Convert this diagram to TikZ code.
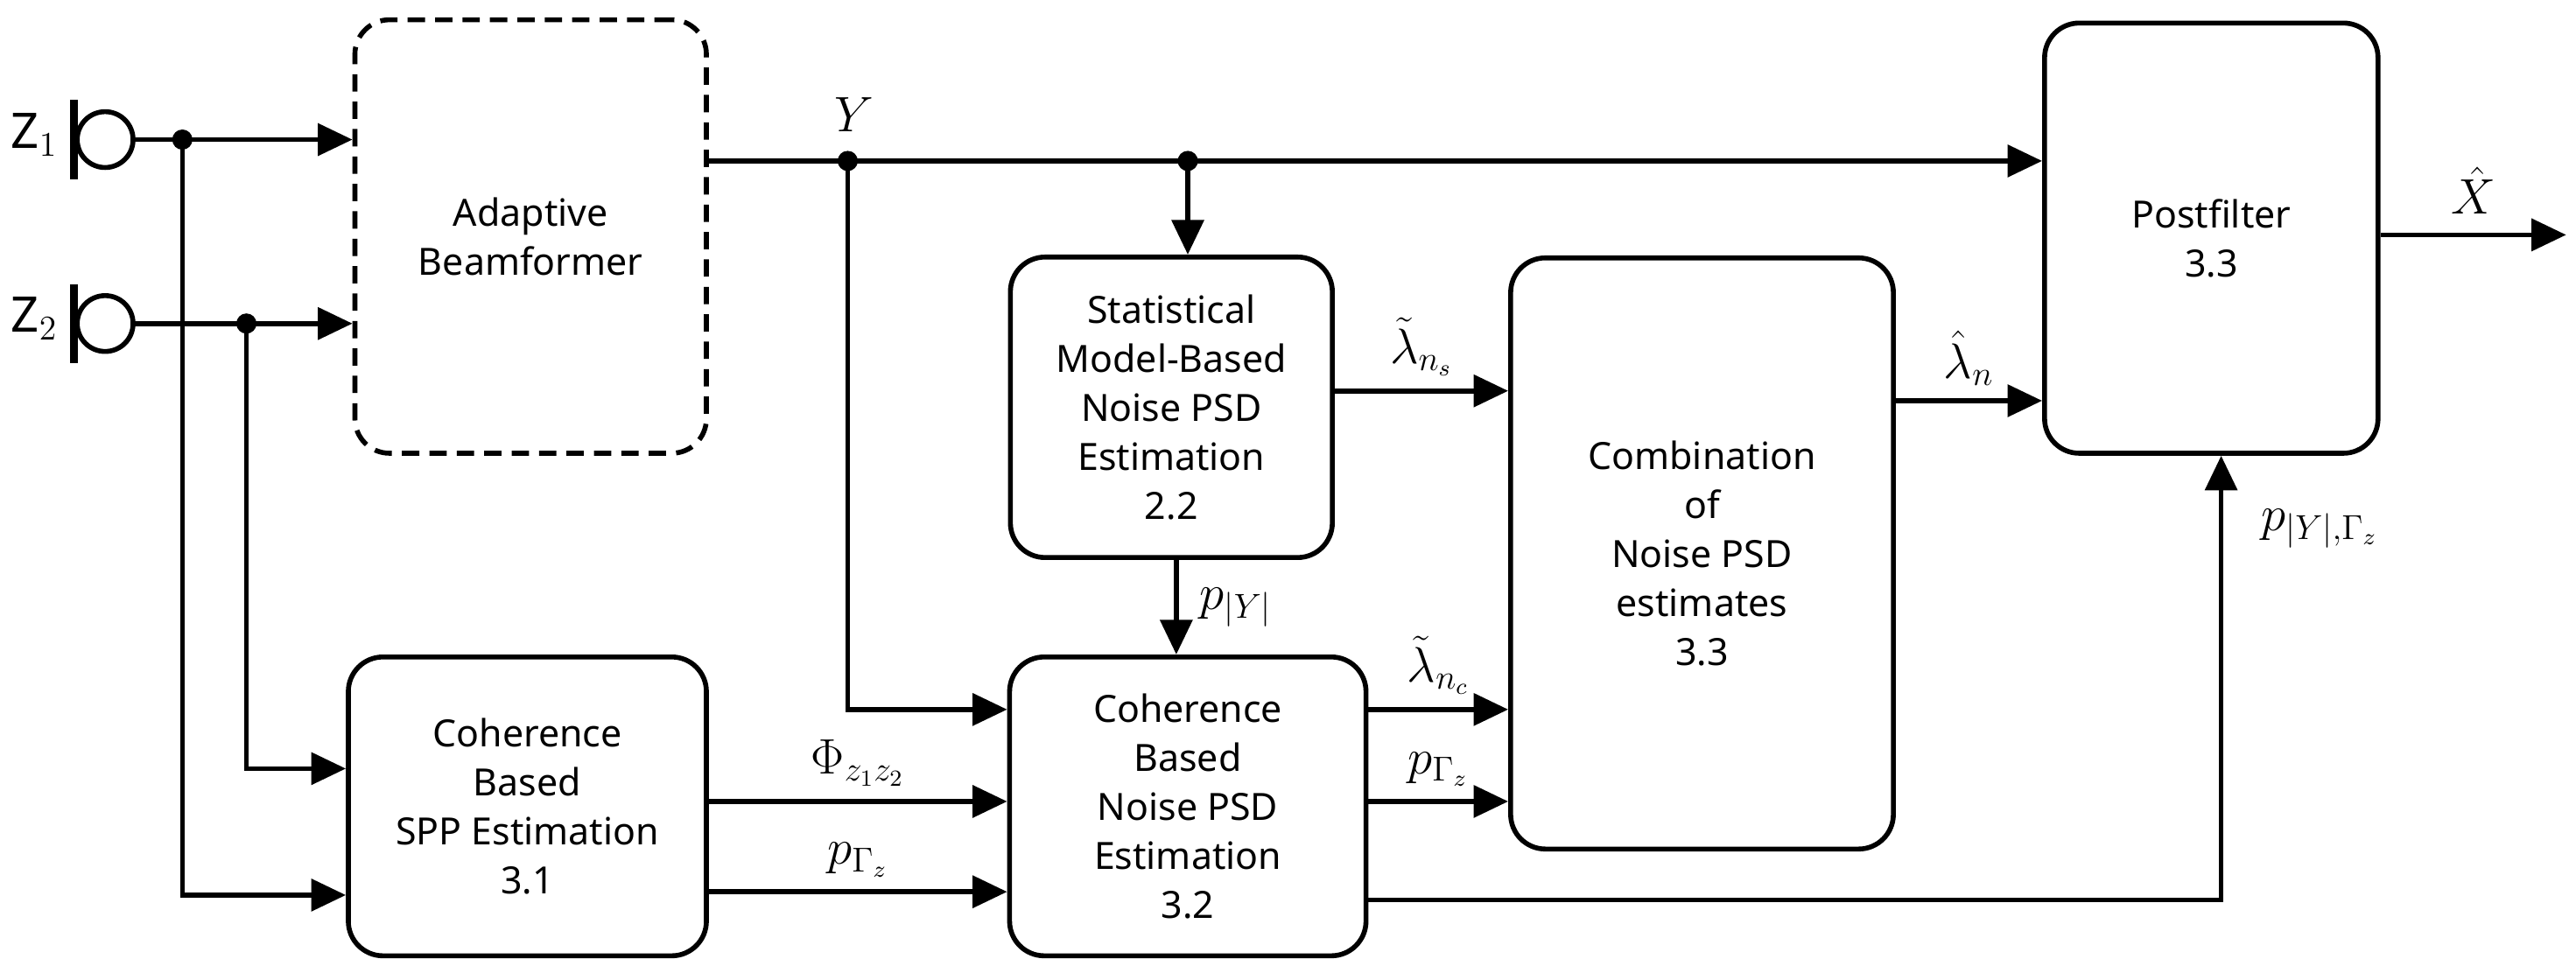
\documentclass[tikz,border=0pt]{standalone}
\usepackage{fontspec}
\setmainfont{Noto Sans}
\usepackage{amsmath}
\usetikzlibrary{positioning, arrows.meta}

\begin{document}
\begin{tikzpicture}[
    x=0.02cm, y=-0.02cm,
    line width=1.7pt,
    block/.style={draw, rounded corners=12pt, align=center, font=\fontsize{13}{17}\selectfont},
    arrow/.style={-{Triangle[length=12pt, width=11pt]}},
    dot/.style={circle, fill, inner sep=0pt, minimum size=7pt},
    lbl/.style={font=\fontsize{17}{19}\selectfont}
]
\useasboundingbox (0,0) rectangle (1568,592);

% Blocks
\node[block, dash pattern=on 6pt off 3.5pt, minimum width=4.28cm, minimum height=5.28cm] (bf) at (323,144) {Adaptive\\Beamformer};
\node[block, minimum width=3.92cm, minimum height=3.66cm] (stat) at (713,248) {Statistical\\Model-Based\\Noise PSD\\Estimation\\2.2};
\node[block, minimum width=4.36cm, minimum height=3.64cm] (spp) at (321,491) {Coherence\\Based\\SPP Estimation\\3.1};
\node[block, minimum width=4.34cm, minimum height=3.64cm] (cnp) at (723,491) {Coherence\\Based\\Noise PSD\\Estimation\\3.2};
\node[block, minimum width=4.66cm, minimum height=7.2cm] (comb) at (1036,337) {Combination\\of\\Noise PSD\\estimates\\3.3};
\node[block, minimum width=4.06cm, minimum height=5.24cm] (post) at (1346,145) {Postfilter\\3.3};

% Microphones
\foreach \i/\yy in {1/85, 2/197} {
  \draw[line width=3pt] (45,\yy-24) -- (45,\yy+24);
  \draw (64,\yy) circle (17);
  \node[lbl] at (21,\yy-3) {$\mathrm{Z}_\i$};
  \coordinate (mic\i) at (81,\yy);
}

% Coordinates for junctions and corners
\coordinate (j1) at (111,85);
\coordinate (j2) at (150,197);
\coordinate (jy) at (516,98);
\coordinate (js) at (723,98);
\coordinate (out) at (1562,143);
\coordinate (corner) at (1352,548);

% Microphone paths
\draw (mic1) -- (j1);
\draw[arrow] (j1) -- (bf.west |- j1);
\draw (mic2) -- (j2);
\draw[arrow] (j2) -- (bf.west |- j2);
\draw[arrow] (j1) |- (spp.west |- 0,545);
\draw[arrow] (j2) |- (spp.west |- 0,468);
\node[dot] at (j1) {};
\node[dot] at (j2) {};

% Beamformer output Y
\draw[arrow] (bf.east |- jy) -- (post.west |- jy);
\node[dot] at (jy) {};
\node[dot] at (js) {};
\node[lbl] at (520,70) {$Y$};
\draw[arrow] (jy) |- (cnp.west |- 0,432);
\draw[arrow] (js) -- (stat.north -| js);

% Statistical to coherence noise
\draw[arrow] (stat.south -| 716,0) -- (cnp.north -| 716,0) node[lbl, midway, right=4pt] {$p_{|Y|}$};

% SPP to coherence noise
\draw[arrow] (spp.east |- 0,488) -- (cnp.west |- 0,488) node[lbl, midway, above=1pt] {$\Phi_{z_1z_2}$};
\draw[arrow] (spp.east |- 0,543) -- (cnp.west |- 0,543) node[lbl, midway, above=1pt] {$p_{\Gamma_z}$};

% To combination
\draw[arrow] (stat.east |- 0,238) -- (comb.west |- 0,238) node[lbl, midway, above=1pt] {$\tilde{\lambda}_{n_s}$};
\draw[arrow] (cnp.east |- 0,432) -- (comb.west |- 0,432) node[lbl, midway, above=1pt] {$\tilde{\lambda}_{n_c}$};
\draw[arrow] (cnp.east |- 0,488) -- (comb.west |- 0,488) node[lbl, midway, above=1pt] {$p_{\Gamma_z}$};

% To postfilter
\draw[arrow] (comb.east |- 0,244) -- (post.west |- 0,244) node[lbl, midway, above=1pt] {$\hat{\lambda}_n$};
\draw[arrow] (cnp.east |- corner) -- (corner) -- (post.south -| corner);
\node[lbl] at (1412,322) {$p_{|Y|,\Gamma_z}$};

% Output
\draw[arrow] (post.east |- out) -- (out) node[lbl, midway, above=3pt] {$\hat{X}$};
\end{tikzpicture}
\end{document}
